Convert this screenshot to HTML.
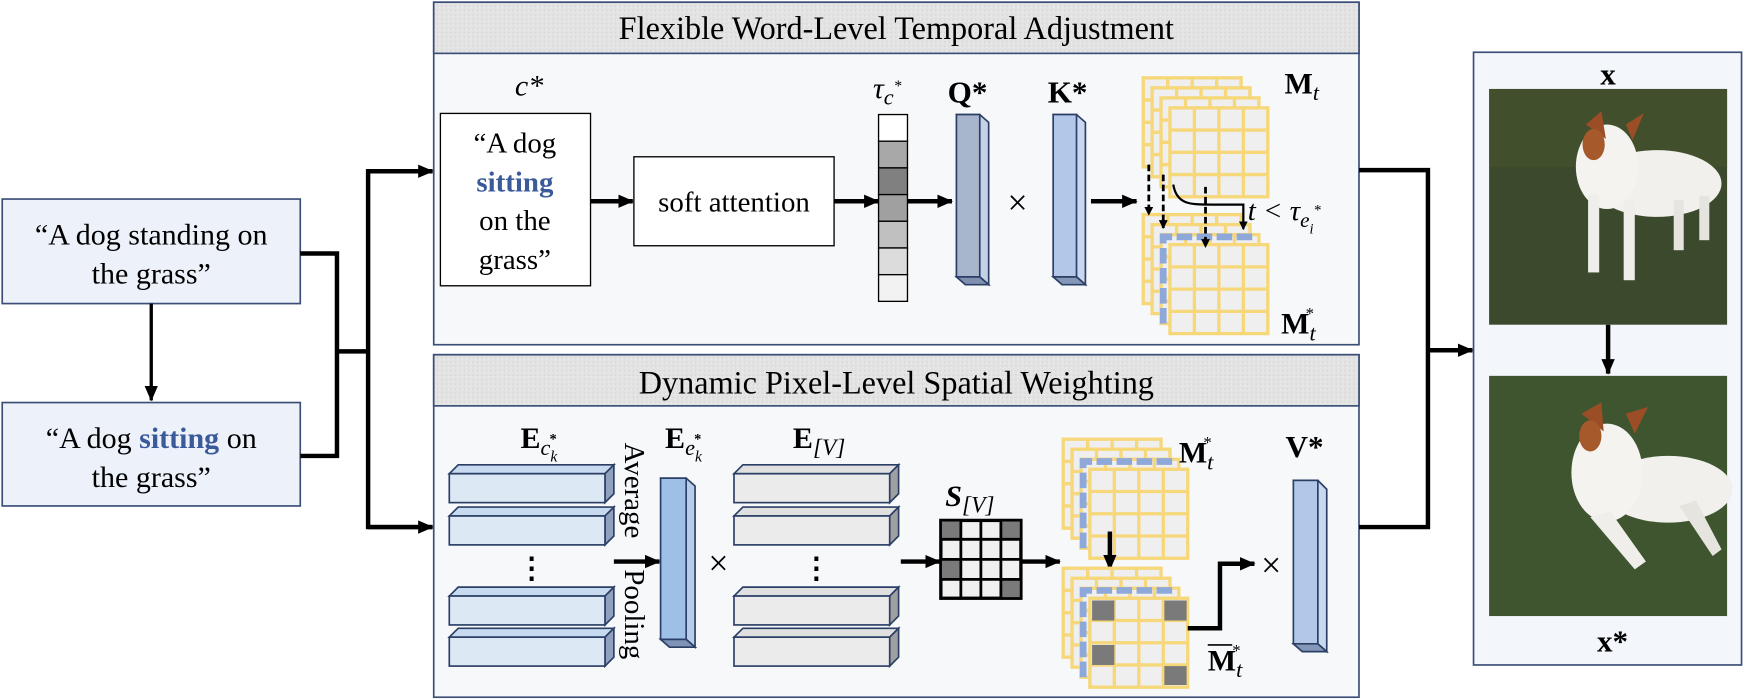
<!DOCTYPE html>
<html><head><meta charset="utf-8">
<style>
html,body{margin:0;padding:0;background:#fff;}
svg{display:block;}
text{font-family:"Liberation Serif","DejaVu Serif",serif;}
</style></head>
<body>
<svg width="1746" height="700" viewBox="0 0 1570 629.5" preserveAspectRatio="none" xmlns="http://www.w3.org/2000/svg">
<defs>
<marker id="ah" markerWidth="8" markerHeight="8" refX="7" refY="4" orient="auto" markerUnits="userSpaceOnUse">
<path d="M0,0 L8,4 L0,8 z" fill="#000"/>
</marker>
<marker id="ahb" markerWidth="14" markerHeight="12" refX="13" refY="6" orient="auto" markerUnits="userSpaceOnUse">
<path d="M0,0 L14,6 L0,12 z" fill="#000"/>
</marker>
<pattern id="dots" width="4" height="4" patternUnits="userSpaceOnUse">
<rect width="4" height="4" fill="#e3e3e3"/><rect x="1" y="1" width="1" height="1" fill="#cfcfcf"/><rect x="3" y="2" width="1" height="1" fill="#f0f0f0"/>
</pattern>
<g id="layer">
<rect x="0" y="0" width="88" height="80" fill="#efefef" stroke="#f6d77a" stroke-width="3"/>
<path d="M22,0V80M44,0V80M66,0V80M0,20H88M0,40H88M0,60H88" stroke="#f6d77a" stroke-width="3"/>
</g>
<g id="stack">
<use href="#layer" x="0" y="0"/>
<use href="#layer" x="8" y="9"/>
<use href="#layer" x="16" y="18"/>
<use href="#layer" x="24" y="27"/>
</g>
<g id="stackb">
<use href="#layer" x="0" y="0"/>
<use href="#layer" x="8" y="9"/>
<use href="#layer" x="16" y="18"/>
<path d="M18,98 V20 H102" stroke="#8fa8da" stroke-width="6" stroke-dasharray="14,4" fill="none"/>
<use href="#layer" x="24" y="27"/>
</g>
<g id="bar">
<path d="M0,8 L8,0 L148,0 L140,8 z" fill="#c8daef" stroke="#2b3f66" stroke-width="1.5"/>
<path d="M140,8 L148,0 L148,26 L140,34 z" fill="#8fa1bf" stroke="#2b3f66" stroke-width="1.5"/>
<rect x="0" y="8" width="140" height="26" fill="#dde8f5" stroke="#2b3f66" stroke-width="1.5"/>
</g>
<g id="barg">
<path d="M0,8 L8,0 L148,0 L140,8 z" fill="#e0e0e0" stroke="#2b3f66" stroke-width="1.5"/>
<path d="M140,8 L148,0 L148,26 L140,34 z" fill="#a0a0a0" stroke="#2b3f66" stroke-width="1.5"/>
<rect x="0" y="8" width="140" height="26" fill="#ebebeb" stroke="#2b3f66" stroke-width="1.5"/>
</g>
</defs>

<!-- left boxes -->
<rect x="2" y="179" width="268" height="94" fill="#edf1f9" stroke="#3b4e78" stroke-width="1.5"/>
<text x="136" y="220" font-size="27" text-anchor="middle">“A dog standing on</text>
<text x="136" y="255" font-size="27" text-anchor="middle">the grass”</text>
<rect x="2" y="362" width="268" height="93" fill="#edf1f9" stroke="#3b4e78" stroke-width="1.5"/>
<text x="136" y="403" font-size="27" text-anchor="middle">“A dog <tspan fill="#3b5a9a" font-weight="bold">sitting</tspan> on</text>
<text x="136" y="438" font-size="27" text-anchor="middle">the grass”</text>
<line x1="136" y1="273" x2="136" y2="360" stroke="#000" stroke-width="3" marker-end="url(#ahb)"/>
<path d="M270,228 H303 V410 H270" fill="none" stroke="#000" stroke-width="4"/>
<path d="M303,316 H331" stroke="#000" stroke-width="4"/>
<path d="M388,154 H331 V474 H388" fill="none" stroke="#000" stroke-width="4"/>
<line x1="331" y1="154" x2="389" y2="154" stroke="#000" stroke-width="4" marker-end="url(#ahb)"/>
<line x1="331" y1="474" x2="389" y2="474" stroke="#000" stroke-width="4" marker-end="url(#ahb)"/>

<!-- top panel -->
<rect x="390" y="2" width="832" height="308" fill="#f7f8fa" stroke="#3b4e78" stroke-width="1.5"/>
<rect x="390" y="2" width="832" height="46" fill="url(#dots)" stroke="#3b4e78" stroke-width="1.5"/>
<text x="806" y="35" font-size="29" text-anchor="middle">Flexible Word-Level Temporal Adjustment</text>
<text x="463" y="86" font-size="27" font-style="italic">c*</text>
<rect x="396" y="102" width="135" height="155" fill="#fff" stroke="#000" stroke-width="1.2"/>
<text x="463" y="137" font-size="26" text-anchor="middle">“A dog</text>
<text x="463" y="172" font-size="26" text-anchor="middle" fill="#3b5a9a" font-weight="bold">sitting</text>
<text x="463" y="207" font-size="26" text-anchor="middle">on the</text>
<text x="463" y="242" font-size="26" text-anchor="middle">grass”</text>
<line x1="531" y1="181" x2="569" y2="181" stroke="#000" stroke-width="4" marker-end="url(#ahb)"/>
<rect x="570" y="141" width="180" height="80" fill="#fff" stroke="#000" stroke-width="1.2"/>
<text x="660" y="190" font-size="26" text-anchor="middle">soft attention</text>
<line x1="750" y1="181" x2="790" y2="181" stroke="#000" stroke-width="4" marker-end="url(#ahb)"/>
<text x="785" y="88" font-size="27" font-style="italic">τ<tspan font-size="20" dy="6">c</tspan><tspan font-size="14" dy="-12">*</tspan></text>
<g stroke="#000" stroke-width="1.2">
<rect x="790" y="103" width="26" height="24" fill="#fff"/>
<rect x="790" y="127" width="26" height="24" fill="#a8a8a8"/>
<rect x="790" y="151" width="26" height="24" fill="#808080"/>
<rect x="790" y="175" width="26" height="24" fill="#a0a0a0"/>
<rect x="790" y="199" width="26" height="24" fill="#c0c0c0"/>
<rect x="790" y="223" width="26" height="24" fill="#dcdcdc"/>
<rect x="790" y="247" width="26" height="24" fill="#f2f2f2"/>
</g>
<line x1="816" y1="181" x2="856" y2="181" stroke="#000" stroke-width="4" marker-end="url(#ahb)"/>
<text x="870" y="92" font-size="28" font-weight="bold" text-anchor="middle">Q*</text>
<path d="M860,103 H881 L889,110 V256 L881,249 z" fill="#c5d1e5" stroke="#2b3f66" stroke-width="1.5"/>
<rect x="860" y="103" width="21" height="146" fill="#a7b5cd" stroke="#2b3f66" stroke-width="1.5"/>
<path d="M860,249 L868,256 H889 L881,249 z" fill="#7f8fad" stroke="#2b3f66" stroke-width="1.5"/>
<text x="915" y="193" font-size="32" text-anchor="middle">×</text>
<text x="960" y="92" font-size="28" font-weight="bold" text-anchor="middle">K*</text>
<path d="M947,103 H968 L976,110 V256 L968,249 z" fill="#c8d8f0" stroke="#2b3f66" stroke-width="1.5"/>
<rect x="947" y="103" width="21" height="146" fill="#b3c8e8" stroke="#2b3f66" stroke-width="1.5"/>
<path d="M947,249 L955,256 H976 L968,249 z" fill="#8597b8" stroke="#2b3f66" stroke-width="1.5"/>
<line x1="981" y1="181" x2="1022" y2="181" stroke="#000" stroke-width="4" marker-end="url(#ahb)"/>
<use href="#stack" x="1028" y="70"/>
<use href="#stackb" x="1028" y="193"/>
<line x1="1033" y1="148" x2="1033" y2="193" stroke="#000" stroke-width="2.5" stroke-dasharray="6,3" marker-end="url(#ah)"/>
<line x1="1046" y1="157" x2="1046" y2="205" stroke="#000" stroke-width="2.5" stroke-dasharray="6,3" marker-end="url(#ah)"/>
<line x1="1084" y1="168" x2="1084" y2="222" stroke="#000" stroke-width="2.5" stroke-dasharray="6,3" marker-end="url(#ah)"/>
<path d="M1055,166 C1058,184 1070,184 1090,184 H1118 V206" fill="none" stroke="#000" stroke-width="2" marker-end="url(#ah)"/>
<text x="1155" y="84" font-size="27" font-weight="bold">M<tspan font-size="20" font-style="italic" font-weight="normal" dy="6">t</tspan></text>
<text x="1122" y="198" font-size="26" font-style="italic">t &lt; τ<tspan font-size="19" dy="6">e</tspan><tspan font-size="13" dy="6">i</tspan><tspan font-size="13" dy="-17">*</tspan></text>
<text x="1152" y="300" font-size="27" font-weight="bold">M<tspan font-size="20" font-style="italic" font-weight="normal" dy="6">t</tspan><tspan font-size="15" font-weight="normal" dx="-9" dy="-19">*</tspan></text>

<!-- bottom panel -->
<rect x="390" y="319" width="832" height="308" fill="#f7f8fa" stroke="#3b4e78" stroke-width="1.5"/>
<rect x="390" y="319" width="832" height="46" fill="url(#dots)" stroke="#3b4e78" stroke-width="1.5"/>
<text x="806" y="354" font-size="29" text-anchor="middle">Dynamic Pixel-Level Spatial Weighting</text>
<text x="468" y="403" font-size="27" font-weight="bold">E<tspan font-size="20" font-style="italic" font-weight="normal" dy="6">c</tspan><tspan font-size="14" font-style="italic" font-weight="normal" dy="6">k</tspan><tspan font-size="13" dx="-7" dy="-16">*</tspan></text>
<use href="#bar" x="404" y="418"/>
<use href="#bar" x="404" y="456"/>
<text x="478" y="520" font-size="26" font-weight="bold" text-anchor="middle">⋮</text>
<use href="#bar" x="404" y="528"/>
<use href="#bar" x="404" y="565"/>
<text font-size="26" transform="translate(562,398) rotate(90)">Average</text>
<text font-size="26" transform="translate(562,512) rotate(90)">Pooling</text>
<line x1="552" y1="505" x2="593" y2="505" stroke="#000" stroke-width="4" marker-end="url(#ahb)"/>
<text x="598" y="403" font-size="27" font-weight="bold">E<tspan font-size="20" font-style="italic" font-weight="normal" dy="6">e</tspan><tspan font-size="14" font-style="italic" font-weight="normal" dy="6">k</tspan><tspan font-size="13" dx="-7" dy="-16">*</tspan></text>
<path d="M594,430 H617 L625,437 V582 L617,575 z" fill="#b8cde9" stroke="#2b3f66" stroke-width="1.5"/>
<rect x="594" y="430" width="23" height="145" fill="#9fc0e6" stroke="#2b3f66" stroke-width="1.5"/>
<path d="M594,575 L602,582 H625 L617,575 z" fill="#7f95b8" stroke="#2b3f66" stroke-width="1.5"/>
<text x="646" y="517" font-size="32" text-anchor="middle">×</text>
<text x="713" y="403" font-size="27" font-weight="bold">E<tspan font-size="21" font-style="italic" font-weight="normal" dy="6">[V]</tspan></text>
<use href="#barg" x="660" y="418"/>
<use href="#barg" x="660" y="456"/>
<text x="734" y="520" font-size="26" font-weight="bold" text-anchor="middle">⋮</text>
<use href="#barg" x="660" y="528"/>
<use href="#barg" x="660" y="565"/>
<line x1="810" y1="505" x2="845" y2="505" stroke="#000" stroke-width="4" marker-end="url(#ahb)"/>
<text x="850" y="455" font-size="27" font-weight="bold" font-style="italic">S<tspan font-size="21" font-weight="normal" dy="6">[V]</tspan></text>
<g>
<rect x="846" y="468" width="72" height="70" fill="#f0f0f0" stroke="#000" stroke-width="3"/>
<rect x="847" y="469" width="17" height="16" fill="#7a7a7a"/>
<rect x="900" y="469" width="17" height="16" fill="#7a7a7a"/>
<rect x="847" y="504" width="17" height="16" fill="#7a7a7a"/>
<rect x="900" y="521" width="17" height="16" fill="#7a7a7a"/>
<path d="M864,468V538M882,468V538M900,468V538M846,485H918M846,503H918M846,521H918" stroke="#000" stroke-width="2.5"/>
</g>
<line x1="918" y1="505" x2="953" y2="505" stroke="#000" stroke-width="4" marker-end="url(#ahb)"/>
<use href="#stackb" x="956" y="395"/>
<text x="1060" y="416" font-size="27" font-weight="bold">M<tspan font-size="20" font-style="italic" font-weight="normal" dy="6">t</tspan><tspan font-size="15" font-weight="normal" dx="-9" dy="-19">*</tspan></text>
<line x1="998" y1="478" x2="998" y2="512" stroke="#000" stroke-width="4" marker-end="url(#ahb)"/>
<use href="#stackb" x="956" y="511"/>
<g fill="#7a7a7a">
<rect x="982" y="540" width="20" height="18"/>
<rect x="1047" y="540" width="20" height="18"/>
<rect x="982" y="580" width="20" height="18"/>
<rect x="1047" y="599" width="20" height="17"/>
</g>
<text x="1086" y="603" font-size="27" font-weight="bold">M<tspan font-size="20" font-style="italic" font-weight="normal" dy="6">t</tspan><tspan font-size="15" font-weight="normal" dx="-9" dy="-19">*</tspan></text>
<line x1="1086" y1="580" x2="1108" y2="580" stroke="#000" stroke-width="1.5"/>
<path d="M1068,565 H1097 V507 H1110" fill="none" stroke="#000" stroke-width="4"/>
<line x1="1096" y1="507" x2="1128" y2="507" stroke="#000" stroke-width="4" marker-end="url(#ahb)"/>
<text x="1143" y="519" font-size="32" text-anchor="middle">×</text>
<text x="1173" y="411" font-size="28" font-weight="bold" text-anchor="middle">V*</text>
<path d="M1163,432 H1185 L1193,440 V586 L1185,579 z" fill="#c8d8f0" stroke="#2b3f66" stroke-width="1.5"/>
<rect x="1163" y="432" width="22" height="147" fill="#b3c8e8" stroke="#2b3f66" stroke-width="1.5"/>
<path d="M1163,579 L1171,586 H1193 L1185,579 z" fill="#8597b8" stroke="#2b3f66" stroke-width="1.5"/>

<!-- right connectors -->
<path d="M1222,153 H1284 V474 H1222" fill="none" stroke="#000" stroke-width="4"/>
<line x1="1284" y1="315" x2="1324" y2="315" stroke="#000" stroke-width="4" marker-end="url(#ahb)"/>

<!-- right panel -->
<rect x="1325" y="47" width="241" height="551" fill="#f3f6fb" stroke="#3b4e78" stroke-width="1.5"/>
<text x="1446" y="76" font-size="28" font-weight="bold" text-anchor="middle">x</text>
<g>
<rect x="1339" y="80" width="214" height="212" fill="#3b4a2c"/>
<rect x="1339" y="80" width="214" height="70" fill="#46542f" opacity="0.6"/>
<ellipse cx="1490" cy="165" rx="58" ry="30" fill="#f1f0ec"/>
<ellipse cx="1445" cy="150" rx="28" ry="38" fill="#f4f3ef"/>
<path d="M1426,112 L1440,100 L1444,125 z" fill="#9b4e26"/>
<path d="M1462,112 L1478,102 L1468,126 z" fill="#9b4e26"/>
<ellipse cx="1433" cy="130" rx="10" ry="14" fill="#a65a2c"/>
<rect x="1428" y="175" width="10" height="70" fill="#efeeea"/>
<rect x="1460" y="180" width="10" height="72" fill="#efeeea"/>
<rect x="1505" y="180" width="9" height="45" fill="#e6e4de"/>
<rect x="1528" y="176" width="9" height="40" fill="#e6e4de"/>
</g>
<line x1="1446" y1="292" x2="1446" y2="336" stroke="#000" stroke-width="4" marker-end="url(#ahb)"/>
<g>
<rect x="1339" y="338" width="214" height="216" fill="#3e5530"/>
<ellipse cx="1500" cy="440" rx="58" ry="30" fill="#f1f0ec"/>
<ellipse cx="1445" cy="425" rx="32" ry="44" fill="#f4f3ef"/>
<path d="M1422,372 L1440,362 L1442,388 z" fill="#9b4e26"/>
<path d="M1462,372 L1482,366 L1470,390 z" fill="#9b4e26"/>
<ellipse cx="1430" cy="392" rx="10" ry="14" fill="#a65a2c"/>
<path d="M1430,465 L1470,512 L1480,505 L1448,460 z" fill="#efeeea"/>
<path d="M1510,455 L1540,500 L1548,494 L1525,450 z" fill="#e6e4de"/>
</g>
<text x="1450" y="586" font-size="28" font-weight="bold" text-anchor="middle">x*</text>
</svg>
</body></html>
